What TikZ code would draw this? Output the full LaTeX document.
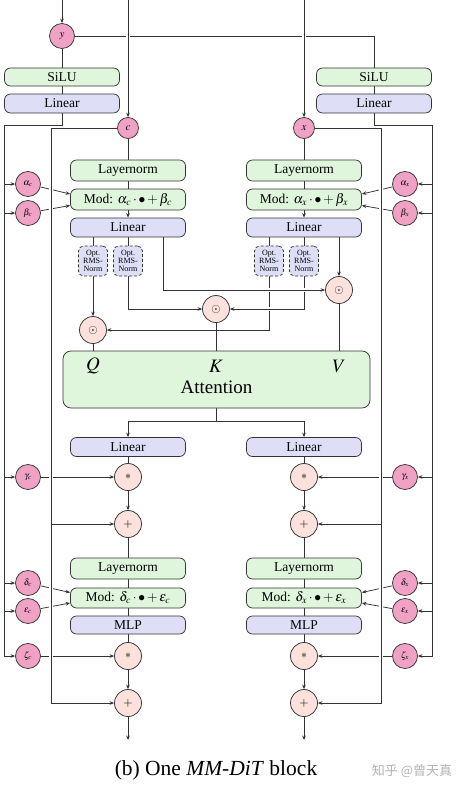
\documentclass[tikz,border=0pt]{standalone}
\usepackage{mathptmx}
\usepackage{fontspec}
\setmainfont{Liberation Serif}
\newfontfamily\cjkfont{Noto Sans CJK SC}
\usetikzlibrary{arrows.meta}
\pgfdeclarelayer{bg}
\pgfsetlayers{bg,main}
\definecolor{pinkc}{HTML}{F0A2C4}
\definecolor{opc}{HTML}{FCE1DD}
\definecolor{greenc}{HTML}{DFF6DC}
\definecolor{lavc}{HTML}{DEDFF7}
\definecolor{edge}{HTML}{333333}
\tikzset{
  wire/.style={draw=edge, line width=0.75pt},
  arr/.style={wire, -{Stealth[length=4.5pt,width=3.6pt]}},
  over/.style={preaction={draw=white, line width=4pt}},
  param/.style={circle, draw=edge, fill=pinkc, line width=0.75pt, minimum size=25pt, inner sep=0pt, font=\fontsize{9}{9}\selectfont},
  inp/.style={param, minimum size=21pt, font=\fontsize{11}{11}\selectfont},
  opnode/.style={circle, draw=edge, fill=opc, line width=0.75pt, minimum size=27pt, inner sep=0pt, font=\fontsize{12}{12}\selectfont},
  gbox/.style={rectangle, rounded corners=6pt, draw=edge, fill=greenc, line width=0.75pt, minimum width=115pt, minimum height=20pt, inner sep=0pt, font=\fontsize{13.5}{14}\selectfont},
  lbox/.style={gbox, fill=lavc},
  optbox/.style={rectangle, rounded corners=5pt, draw=edge, dash pattern=on 3pt off 2pt, fill=lavc, line width=0.75pt, minimum width=29pt, minimum height=30pt, inner sep=0pt, align=center, font=\fontsize{8}{8.3}\selectfont},
}
\begin{document}
\begin{tikzpicture}[x=1pt,y=-1pt]
\useasboundingbox (0,0) rectangle (466,792);
% ---------- top ----------
\coordinate (ty) at (62,0);
\coordinate (tc) at (128,0);
\coordinate (tx) at (304,0);
\node[param, font=\fontsize{11}{11}\selectfont] (y) at (62,36) {$y$};
\node[inp] (c) at (128,128) {$c$};
\node[inp] (x) at (304,128) {$x$};
\node[gbox, minimum height=18pt] (siluL) at (62,77) {SiLU};
\node[lbox, minimum height=19pt] (linL) at (62,103.5) {Linear};
\node[gbox, minimum height=18pt] (siluR) at (374,77) {SiLU};
\node[lbox, minimum height=19pt] (linR) at (374,103.5) {Linear};
\coordinate (busL) at (4,125);
\coordinate (busR) at (432,125);
\coordinate (resL) at (51,703);
\coordinate (resR) at (381,703);
% ---------- parameter circles ----------
\node[param] (ac) at (28,184) {$\alpha_c$};
\node[param] (bc) at (28,213) {$\beta_c$};
\node[param] (gc) at (28,477) {$\gamma_c$};
\node[param] (dc) at (28,583) {$\delta_c$};
\node[param] (ec) at (28,611) {$\varepsilon_c$};
\node[param] (zc) at (28,656) {$\zeta_c$};
\node[param] (ax) at (405,184) {$\alpha_x$};
\node[param] (bx) at (405,213) {$\beta_x$};
\node[param] (gx) at (405,477) {$\gamma_x$};
\node[param] (dx) at (405,583) {$\delta_x$};
\node[param] (ex) at (405,611) {$\varepsilon_x$};
\node[param] (zx) at (405,656) {$\zeta_x$};
% ---------- first stacks ----------
\node[gbox, minimum height=21pt] (lnc) at (128,170.5) {Layernorm};
\node[gbox, minimum height=21pt] (modc) at (128,199.5) {Mod: $\alpha_c\cdot\bullet+\beta_c$};
\node[lbox, minimum height=19pt] (linc) at (128,227.5) {Linear};
\node[gbox, minimum height=21pt] (lnx) at (304,170.5) {Layernorm};
\node[gbox, minimum height=21pt] (modx) at (304,199.5) {Mod: $\alpha_x\cdot\bullet+\beta_x$};
\node[lbox, minimum height=19pt] (linx) at (304,227.5) {Linear};
\node[optbox] (optcq) at (93,261) {Opt.\\RMS-\\Norm};
\node[optbox] (optck) at (128,261) {Opt.\\RMS-\\Norm};
\node[optbox] (optxq) at (269,261) {Opt.\\RMS-\\Norm};
\node[optbox] (optxk) at (304,261) {Opt.\\RMS-\\Norm};
\node[opnode] (dq) at (93,330) {$\odot$};
\node[opnode] (dk) at (216,309) {$\odot$};
\node[opnode] (dv) at (339,290) {$\odot$};
% ---------- attention ----------
\node[gbox, minimum width=307pt, minimum height=57pt, rounded corners=8pt] (att) at (216.5,379.5) {};
\node[font=\fontsize{19}{19}\selectfont] (ql) at (93,366) {$Q$};
\node[font=\fontsize{19}{19}\selectfont] (kl) at (216,366) {$K$};
\node[font=\fontsize{19}{19}\selectfont] (vl) at (339,366) {$V$};
\node[font=\fontsize{19}{19}\selectfont] (attl) at (216.5,387) {Attention};
% ---------- second stacks ----------
\node[lbox, minimum height=19pt] (lin2c) at (128,447) {Linear};
\node[lbox, minimum height=19pt] (lin2x) at (304,447) {Linear};
\node[opnode] (s1c) at (128,477) {$*$};
\node[opnode] (s1x) at (304,477) {$*$};
\node[opnode] (p1c) at (128,524) {$+$};
\node[opnode] (p1x) at (304,524) {$+$};
\node[gbox, minimum height=21pt] (ln2c) at (128,568.5) {Layernorm};
\node[gbox, minimum height=20pt] (mod2c) at (128,598) {Mod: $\delta_c\cdot\bullet+\varepsilon_c$};
\node[lbox, minimum height=18pt] (mlpc) at (128,625) {MLP};
\node[gbox, minimum height=21pt] (ln2x) at (304,568.5) {Layernorm};
\node[gbox, minimum height=20pt] (mod2x) at (304,598) {Mod: $\delta_x\cdot\bullet+\varepsilon_x$};
\node[lbox, minimum height=18pt] (mlpx) at (304,625) {MLP};
\node[opnode] (s2c) at (128,656) {$*$};
\node[opnode] (s2x) at (304,656) {$*$};
\node[opnode] (p2c) at (128,703) {$+$};
\node[opnode] (p2x) at (304,703) {$+$};
\coordinate (outc) at (128,740);
\coordinate (outx) at (304,740);
% ---------- caption ----------
\node[font=\fontsize{21.5}{24}\selectfont] (cap) at (216,770) {(b) One \textit{MM-DiT} block};
\node[font=\cjkfont\fontsize{13}{13}\selectfont, text=black!30] (wm) at (412,771) {知乎 @曾天真};
% ---------- connectors ----------
\begin{pgfonlayer}{bg}
\draw[arr] (ty) -- (y);
\draw[wire] (y) -- (siluL);
\draw[wire] (siluL) -- (linL);
\draw[wire] (y.east) -| (siluR.north);
\draw[wire] (siluR) -- (linR);
\draw[arr, over] (tc) -- (c);
\draw[arr, over] (tx) -- (x);
% adaLN buses
\draw[arr] (linL.south) |- (busL) -- (busL |- zc.west) -- (zc.west);
\draw[arr] (linR.south) |- (busR) -- (busR |- zx.east) -- (zx.east);
\foreach \n in {ac,bc,gc,dc,ec} \draw[arr] (busL |- \n.west) -- (\n.west);
\foreach \n in {ax,bx,gx,dx,ex} \draw[arr] (busR |- \n.east) -- (\n.east);
% parameters into the stacks
\draw[arr] (ac) -- ([yshift=5.5pt]modc.west);
\draw[arr] (bc) -- ([yshift=-6pt]modc.west);
\draw[arr] (ax) -- ([yshift=5.5pt]modx.east);
\draw[arr] (bx) -- ([yshift=-6pt]modx.east);
\draw[arr] (gc) -- (s1c);
\draw[arr] (gx) -- (s1x);
\draw[arr] (dc) -- ([yshift=5.5pt]mod2c.west);
\draw[arr] (ec) -- ([yshift=-5pt]mod2c.west);
\draw[arr] (dx) -- ([yshift=5.5pt]mod2x.east);
\draw[arr] (ex) -- ([yshift=-5pt]mod2x.east);
\draw[arr] (zc) -- (s2c);
\draw[arr] (zx) -- (s2x);
% residual paths
\draw[arr, over] (c.west) -| (resL) -- (p2c.west);
\draw[arr, over] (x.east) -| (resR) -- (p2x.east);
\draw[arr] (p1c.west -| resL) -- (p1c.west);
\draw[arr] (p1x.east -| resR) -- (p1x.east);
% first stacks
\draw[wire] (c) -- (lnc);
\draw[wire] (lnc) -- (modc);
\draw[arr] (modc) -- (linc);
\draw[wire] (x) -- (lnx);
\draw[wire] (lnx) -- (modx);
\draw[arr] (modx) -- (linx);
% q k v
\draw[wire] (linc.south -| optcq) -- (optcq);
\draw[wire] (linc.south -| optck) -- (optck);
\draw[wire] (linx.south -| optxq) -- (optxq);
\draw[wire] (linx.south -| optxk) -- (optxk);
\draw[arr] (optcq) -- (dq);
\draw[arr] (optck.south) |- (dk.west);
\draw[arr] (optxq.south) |- (dq.east);
\draw[arr, over] (optxk.south) |- (dk.east);
\draw[arr, over] ([xshift=35pt]linc.south) |- (dv.west);
\draw[arr] (linx.south -| dv) -- (dv);
\draw[wire] (dq) -- (dq |- att.north);
\draw[wire] (dk) -- (dk |- att.north);
\draw[wire] (dv) -- (dv |- att.north);
% after attention
\draw[arr] (att.south) -- ++(0,13) -| (lin2c.north);
\draw[arr] (att.south) -- ++(0,13) -| (lin2x.north);
\draw[wire] (lin2c) -- (s1c);
\draw[arr] (s1c) -- (p1c);
\draw[wire] (p1c) -- (ln2c);
\draw[wire] (ln2c) -- (mod2c);
\draw[wire] (mod2c) -- (mlpc);
\draw[wire] (mlpc) -- (s2c);
\draw[arr] (s2c) -- (p2c);
\draw[arr] (p2c) -- (outc);
\draw[wire] (lin2x) -- (s1x);
\draw[arr] (s1x) -- (p1x);
\draw[wire] (p1x) -- (ln2x);
\draw[wire] (ln2x) -- (mod2x);
\draw[wire] (mod2x) -- (mlpx);
\draw[wire] (mlpx) -- (s2x);
\draw[arr] (s2x) -- (p2x);
\draw[arr] (p2x) -- (outx);
\end{pgfonlayer}
\end{tikzpicture}
\end{document}
